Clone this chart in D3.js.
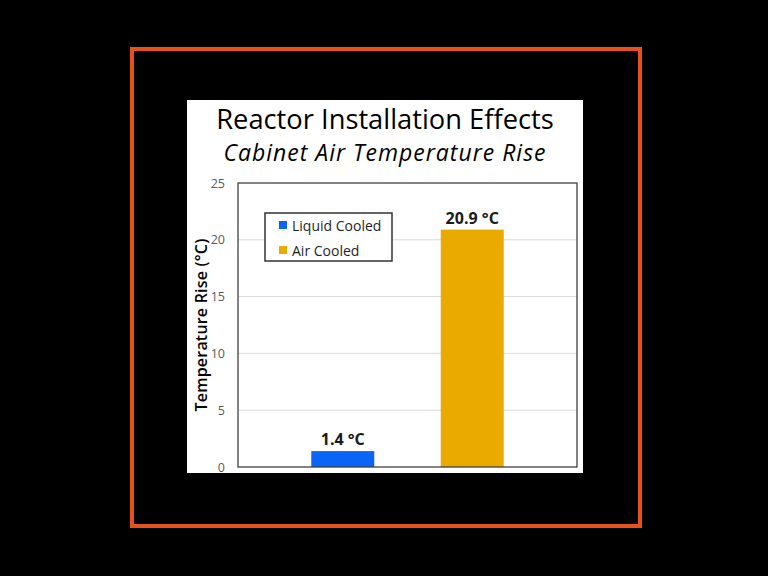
<!DOCTYPE html>
<html><head><meta charset="utf-8">
<script src="https://cdn.jsdelivr.net/npm/d3@7"></script>
<style>
html,body{margin:0;padding:0;background:#000;}
svg{display:block;}
</style></head>
<body>
<svg id="c" width="768" height="576"></svg>
<script>
const title = "Reactor Installation Effects";
const subtitle = "Cabinet Air Temperature Rise";
const yAxisTitle = "Temperature Rise (°C)";
const seriesNames = ["Liquid Cooled", "Air Cooled"];
const seriesValues = [1.4, 20.9];
const valueLabels = ["1.4 °C", "20.9 °C"];
const yTicks = [0, 5, 10, 15, 20, 25];
const seriesColors = ["#0a64f5", "#ebaa00"];

const font = "'Open Sans', 'Noto Sans', sans-serif";
const svg = d3.select("#c");
svg.append("rect").attr("width",768).attr("height",576).attr("fill","#000");
svg.append("rect").attr("x",132).attr("y",49).attr("width",508).attr("height",477)
  .attr("fill","none").attr("stroke","#e8501e").attr("stroke-width",4);
svg.append("rect").attr("x",187).attr("y",100).attr("width",396).attr("height",373).attr("fill","#fff");

const plot = {l:238, r:577, t:183, b:467};
const y = d3.scaleLinear().domain([0,25]).range([plot.b, plot.t]);
const x = d3.scaleBand().domain(seriesNames).range([plot.l, plot.r]).paddingInner(0.5135).paddingOuter(0.566);

// gridlines
svg.append("g").selectAll("line").data(yTicks.filter(t=>t>0 && t<25)).join("line")
  .attr("x1",plot.l).attr("x2",plot.r).attr("y1",d=>y(d)).attr("y2",d=>y(d))
  .attr("stroke","#d9d9d9").attr("stroke-width",1);

// bars
svg.append("g").selectAll("rect").data(seriesNames).join("rect")
  .attr("x",d=>x(d)).attr("width",x.bandwidth())
  .attr("y",(d,i)=>y(seriesValues[i])).attr("height",(d,i)=>plot.b - y(seriesValues[i]))
  .attr("fill",(d,i)=>seriesColors[i]);

// plot border
svg.append("rect").attr("x",plot.l).attr("y",plot.t).attr("width",plot.r-plot.l).attr("height",plot.b-plot.t)
  .attr("fill","none").attr("stroke","#404040").attr("stroke-width",1.3);

// y axis
const yAxis = d3.axisLeft(y).tickValues(yTicks).tickSize(0).tickPadding(13);
const ga = svg.append("g").attr("transform",`translate(${plot.l},0)`).call(yAxis);
ga.select(".domain").remove();
ga.selectAll("text").attr("font-family",font).attr("font-size",12.5).attr("fill","#595959");

// value labels
svg.append("g").selectAll("text").data(seriesNames).join("text")
  .attr("x",d=>x(d)+x.bandwidth()/2).attr("y",(d,i)=>y(seriesValues[i])-6)
  .attr("text-anchor","middle").attr("font-family",font).attr("font-size",16).attr("font-weight",700)
  .attr("fill","#1a1a1a").text((d,i)=>valueLabels[i]);

// titles
svg.append("text").attr("x",385).attr("y",129).attr("text-anchor","middle")
  .attr("font-family",font).attr("font-size",27.3).attr("font-weight",500).attr("fill","#000").text(title);
svg.append("text").attr("x",385).attr("y",161).attr("text-anchor","middle")
  .attr("font-family",font).attr("font-size",23).attr("letter-spacing",1).attr("font-style","italic").attr("font-weight",500).attr("fill","#000").text(subtitle);

// y axis title
svg.append("text").attr("transform",`translate(207,${(plot.t+plot.b)/2}) rotate(-90)`)
  .attr("text-anchor","middle").attr("font-family",font).attr("font-size",16).attr("letter-spacing",0.2).attr("font-weight",600)
  .attr("fill","#000").text(yAxisTitle);

// legend
const lg = svg.append("g").attr("transform","translate(265,213)");
lg.append("rect").attr("width",127).attr("height",48).attr("fill","#fff").attr("stroke","#333").attr("stroke-width",1.5);
const li = lg.selectAll("g").data(seriesNames).join("g").attr("transform",(d,i)=>`translate(14,${8+i*25})`);
li.append("rect").attr("width",8).attr("height",8).attr("fill",(d,i)=>seriesColors[i]);
li.append("text").attr("x",13).attr("y",9.5).attr("font-family",font).attr("font-size",14).attr("fill","#1f1f1f").text(d=>d);
</script>
</body></html>
